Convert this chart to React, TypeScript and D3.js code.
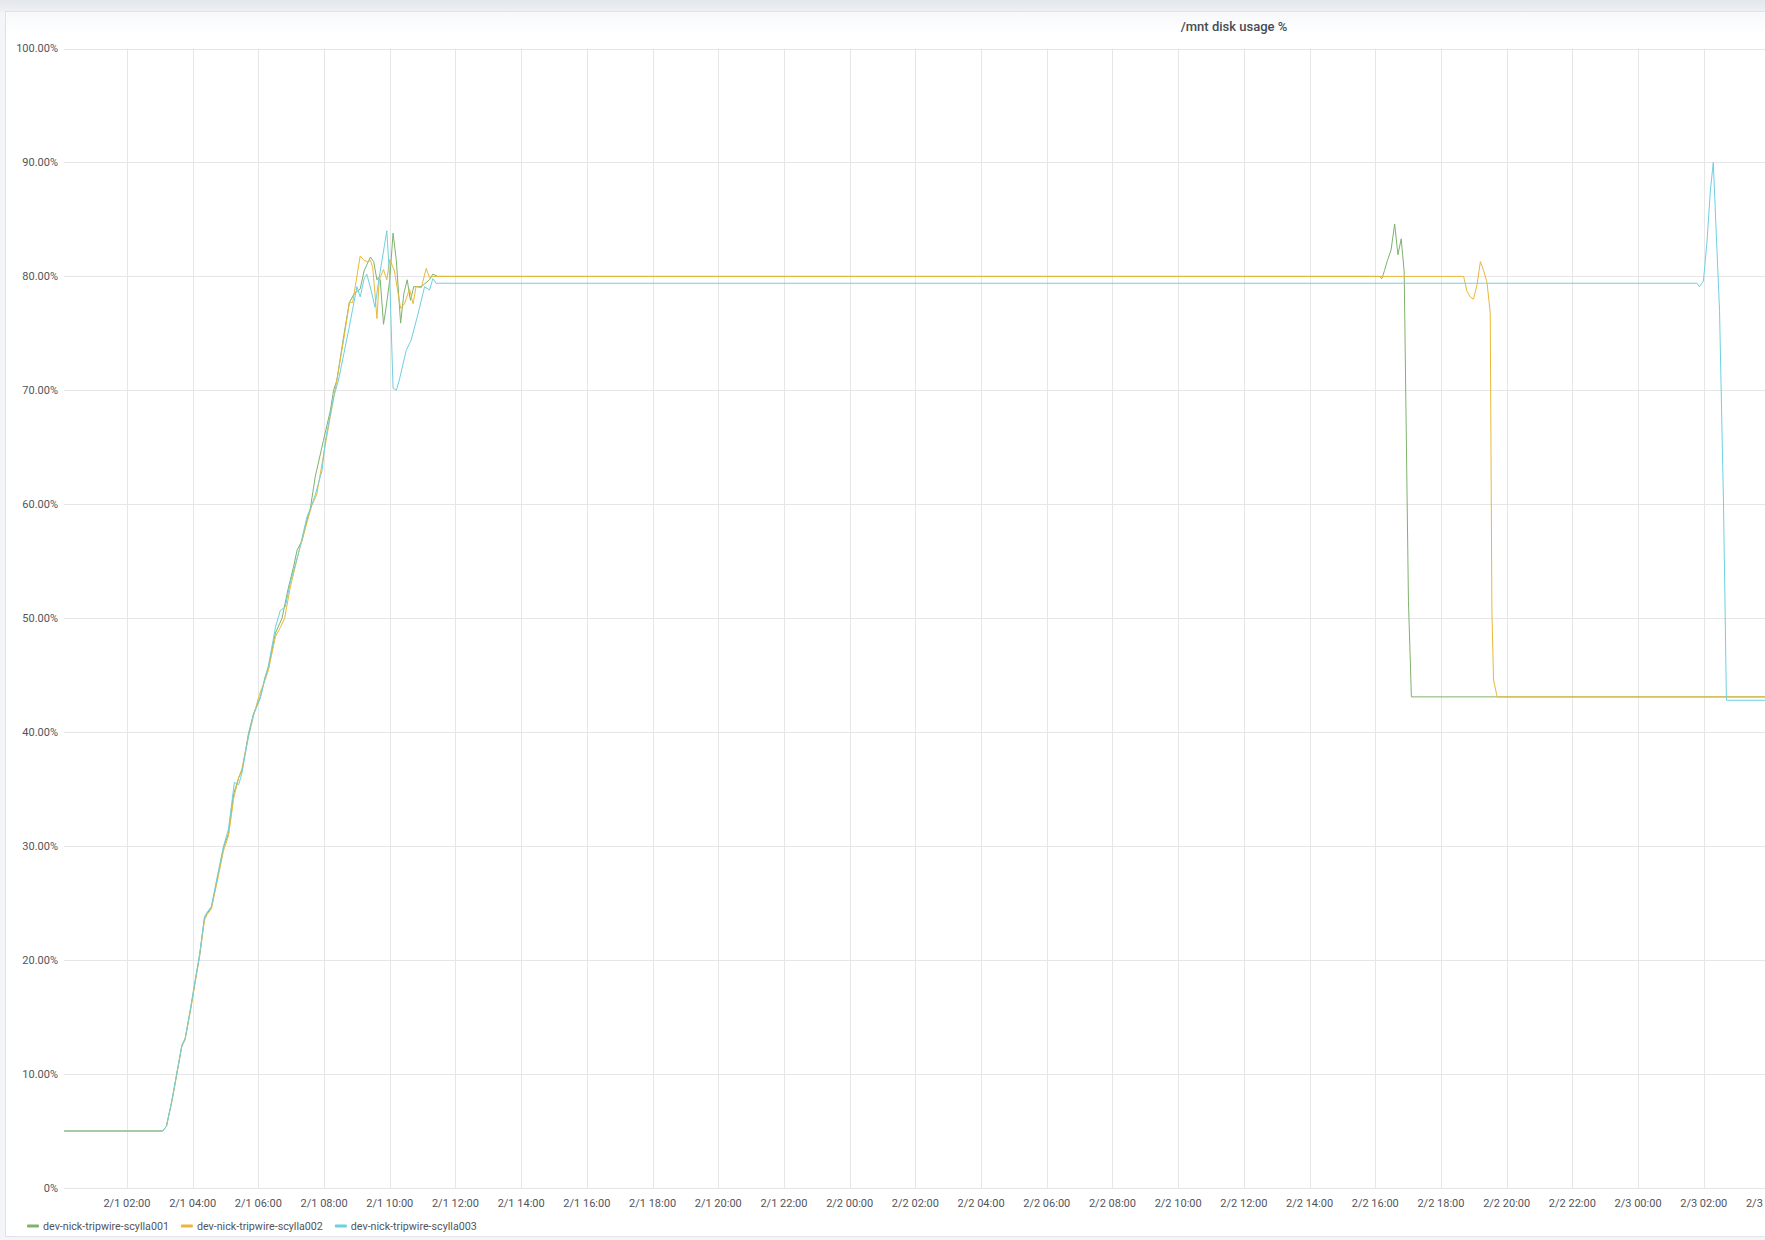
import React, { useEffect, useRef } from "react";
import * as d3 from "d3";

const seriesNames = [
  "dev-nick-tripwire-scylla001",
  "dev-nick-tripwire-scylla002",
  "dev-nick-tripwire-scylla003",
];
const seriesColors = ["#7eb26d", "#eab839", "#6ed0e0"];

// [hours since 2/1 00:00, /mnt usage %]
const scylla001: [number, number][] = [
  [0.09, 5.0], [3.08, 5.0], [3.2, 5.4], [3.37, 7.7], [3.52, 10.1], [3.67, 12.5],
  [3.77, 13.1], [3.93, 15.6], [4.08, 18.2], [4.21, 20.3], [4.36, 23.7], [4.44, 24.1],
  [4.57, 24.6], [4.74, 27.0], [4.94, 29.9], [5.09, 31.1], [5.25, 34.6], [5.4, 36.0],
  [5.5, 36.6], [5.7, 39.9], [5.85, 41.6], [6.06, 43.1], [6.21, 44.9], [6.31, 45.7],
  [6.52, 48.7], [6.72, 50.0], [6.9, 52.5], [7.07, 54.5], [7.18, 56.0], [7.33, 56.8],
  [7.48, 58.6], [7.58, 59.6], [7.73, 62.4], [7.98, 65.6], [8.19, 68.2], [8.29, 70.0],
  [8.39, 70.9], [8.6, 74.8], [8.77, 77.7], [8.92, 78.5], [9.1, 78.9], [9.22, 80.5],
  [9.41, 81.7], [9.51, 81.3], [9.61, 79.7], [9.65, 79.9], [9.71, 79.7], [9.81, 75.8],
  [9.89, 77.3], [10.0, 79.7], [10.1, 83.8], [10.2, 81.4], [10.33, 75.9], [10.43, 78.5],
  [10.53, 79.7], [10.63, 77.9], [10.73, 79.1], [10.96, 79.1], [11.21, 79.7], [11.31, 80.2],
  [11.46, 80.0], [40.13, 80.0], [40.2, 79.8], [40.28, 80.5], [40.37, 81.4], [40.48, 82.3],
  [40.59, 84.6], [40.69, 81.9], [40.79, 83.3], [40.88, 80.4], [41.01, 51.5], [41.1, 43.1],
  [53.0, 43.1],
];

const scylla002: [number, number][] = [
  [0.09, 5.0], [3.08, 5.0], [3.2, 5.4], [3.37, 7.6], [3.52, 10.0], [3.67, 12.4],
  [3.77, 13.0], [3.93, 15.5], [4.08, 18.1], [4.21, 20.4], [4.36, 23.5], [4.44, 24.0],
  [4.57, 24.5], [4.74, 26.8], [4.94, 29.6], [5.09, 30.9], [5.25, 34.2], [5.4, 36.0],
  [5.5, 36.8], [5.7, 39.6], [5.85, 41.4], [6.03, 43.3], [6.21, 44.6], [6.31, 45.5],
  [6.52, 48.4], [6.67, 49.2], [6.8, 50.0], [6.97, 52.7], [7.22, 55.7], [7.43, 57.9],
  [7.63, 59.9], [7.78, 60.9], [7.94, 63.6], [8.19, 67.7], [8.39, 70.9], [8.6, 74.5],
  [8.77, 77.7], [8.87, 77.7], [9.1, 81.8], [9.22, 81.4], [9.33, 81.3], [9.41, 81.4],
  [9.48, 80.8], [9.55, 78.5], [9.61, 76.3], [9.68, 79.7], [9.81, 80.6], [9.91, 79.7],
  [10.0, 81.5], [10.14, 80.5], [10.33, 77.2], [10.45, 77.6], [10.6, 78.9], [10.71, 77.6],
  [10.8, 79.1], [10.96, 79.0], [11.11, 80.7], [11.21, 79.9], [11.31, 80.0], [42.69, 80.0],
  [42.79, 78.7], [42.89, 78.2], [42.99, 78.0], [43.1, 79.3], [43.2, 81.3], [43.3, 80.5],
  [43.4, 79.5], [43.5, 76.8], [43.55, 50.8], [43.6, 44.6], [43.71, 43.1], [53.0, 43.1],
];

const scylla003: [number, number][] = [
  [0.09, 5.0], [3.08, 5.0], [3.2, 5.4], [3.37, 7.7], [3.52, 10.1], [3.67, 12.5],
  [3.77, 13.1], [3.93, 15.7], [4.08, 18.3], [4.21, 20.5], [4.36, 23.8], [4.44, 24.2],
  [4.57, 24.7], [4.74, 27.2], [4.94, 30.0], [5.09, 31.5], [5.27, 35.6], [5.4, 35.4],
  [5.5, 36.4], [5.7, 39.7], [5.85, 41.5], [6.06, 43.0], [6.21, 44.8], [6.31, 45.9],
  [6.52, 49.2], [6.67, 50.7], [6.82, 51.0], [6.97, 53.1], [7.22, 55.7], [7.48, 58.9],
  [7.58, 59.6], [7.73, 60.8], [7.94, 63.0], [8.04, 65.6], [8.29, 69.4], [8.44, 70.9],
  [8.77, 75.6], [9.0, 79.1], [9.1, 78.2], [9.22, 79.8], [9.3, 80.2], [9.43, 78.8],
  [9.55, 77.3], [9.65, 79.4], [9.78, 81.7], [9.91, 84.0], [10.0, 79.7], [10.1, 70.2],
  [10.2, 70.0], [10.29, 70.9], [10.5, 73.5], [10.65, 74.4], [10.86, 76.7], [11.06, 79.1],
  [11.21, 78.8], [11.31, 79.8], [11.41, 79.4], [49.79, 79.4], [49.87, 79.1], [49.99, 79.6],
  [50.1, 83.1], [50.2, 87.5], [50.29, 90.0], [50.48, 77.0], [50.6, 60.2], [50.69, 42.8],
  [53.0, 42.8],
];

const seriesData = [scylla001, scylla002, scylla003];
const yTicks = [0, 10, 20, 30, 40, 50, 60, 70, 80, 90, 100];
const title = "/mnt disk usage %";

const W = 1765;
const H = 1240;
const FONT = "Roboto, 'Noto Sans', Arial, sans-serif";

const base = new Date(2021, 1, 1, 0, 0, 0);
const toDate = (h: number) => new Date(base.getTime() + h * 3600 * 1000);

export default function App() {
  const svgRef = useRef<SVGSVGElement | null>(null);

  useEffect(() => {
    if (!svgRef.current) return;
    const svg = d3.select(svgRef.current);
    svg.selectAll("*").remove();

    const left = 64;
    const top = 48.5;
    const bottom = 1188;
    const pxPerHour = 32.85;
    const t0 = 0.0833; // 2/1 00:05
    const t1 = 53; // 2/3 05:00, past the visible edge

    const x = d3.scaleTime()
      .domain([toDate(t0), toDate(t1)])
      .range([left, left + (t1 - t0) * pxPerHour]);
    const y = d3.scaleLinear().domain([0, 100]).range([bottom, top]);

    // page + panel
    const defs = svg.append("defs");
    const topGrad = defs.append("linearGradient")
      .attr("id", "page-top").attr("x1", 0).attr("y1", 0).attr("x2", 0).attr("y2", 1);
    topGrad.append("stop").attr("offset", "0%").attr("stop-color", "#e3e7ec");
    topGrad.append("stop").attr("offset", "100%").attr("stop-color", "#eef0f4");
    const headGrad = defs.append("linearGradient")
      .attr("id", "panel-head").attr("x1", 0).attr("y1", 0).attr("x2", 0).attr("y2", 1);
    headGrad.append("stop").attr("offset", "0%").attr("stop-color", "#f7f8fa");
    headGrad.append("stop").attr("offset", "100%").attr("stop-color", "#ffffff");

    svg.append("rect").attr("width", W).attr("height", H).attr("fill", "#f4f5f8");
    svg.append("rect").attr("width", W).attr("height", 12).attr("fill", "url(#page-top)");
    svg.append("rect")
      .attr("x", 5.5).attr("y", 11.5).attr("width", W + 20).attr("height", 1225)
      .attr("fill", "#ffffff").attr("stroke", "#dde1e8");
    svg.append("rect")
      .attr("x", 6).attr("y", 12).attr("width", W).attr("height", 22)
      .attr("fill", "url(#panel-head)");

    // title
    svg.append("text")
      .attr("x", 1234).attr("y", 31)
      .attr("text-anchor", "middle")
      .attr("font-family", FONT).attr("font-size", 13).attr("font-weight", 500)
      .attr("fill", "#464c54")
      .text(title);

    // grid
    const xTicks = x.ticks(d3.timeHour.every(2)!);
    const grid = svg.append("g").attr("stroke", "#e6e6e6").attr("stroke-width", 1);
    grid.selectAll("line.h").data(yTicks).join("line")
      .attr("x1", left).attr("x2", W)
      .attr("y1", (d) => Math.round(y(d)) + 0.5).attr("y2", (d) => Math.round(y(d)) + 0.5);
    grid.selectAll("line.v").data(xTicks).join("line")
      .attr("x1", (d) => Math.round(x(d)) + 0.5).attr("x2", (d) => Math.round(x(d)) + 0.5)
      .attr("y1", top).attr("y2", bottom);

    // axis labels
    svg.append("g").selectAll("text").data(yTicks).join("text")
      .attr("x", 58).attr("y", (d) => y(d)).attr("dy", "0.35em")
      .attr("text-anchor", "end")
      .attr("font-family", FONT).attr("font-size", 11).attr("fill", "#52545c")
      .text((d) => (d === 0 ? "0%" : d.toFixed(2) + "%"));

    const fmt = d3.timeFormat("%-m/%-d %H:%M");
    svg.append("g").selectAll("text").data(xTicks).join("text")
      .attr("x", (d) => x(d)).attr("y", 1207)
      .attr("text-anchor", "middle")
      .attr("font-family", FONT).attr("font-size", 11).attr("fill", "#52545c")
      .text((d) => fmt(d));

    // series
    const line = d3.line<[number, number]>()
      .x((d) => x(toDate(d[0])))
      .y((d) => y(d[1]));
    seriesData.forEach((s, i) => {
      svg.append("path")
        .datum(s)
        .attr("fill", "none")
        .attr("stroke", seriesColors[i])
        .attr("stroke-width", 1)
        .attr("stroke-linejoin", "round")
        .attr("d", line);
    });

    // legend
    let lx = 27;
    const legend = svg.append("g");
    seriesNames.forEach((name, i) => {
      legend.append("rect")
        .attr("x", lx).attr("y", 1224.5).attr("width", 12).attr("height", 3)
        .attr("rx", 1).attr("fill", seriesColors[i]);
      const t = legend.append("text")
        .attr("x", lx + 16).attr("y", 1230)
        .attr("font-family", FONT).attr("font-size", 10.7).attr("fill", "#52545c")
        .text(name);
      const w = (t.node() as SVGTextElement).getComputedTextLength();
      lx += 16 + w + 12;
    });
    svg.append("line")
      .attr("x1", 16).attr("x2", W).attr("y1", 1236.5).attr("y2", 1236.5)
      .attr("stroke", "#e4e7ec");
  }, []);

  return (
    <svg
      ref={svgRef}
      width={W}
      height={H}
      style={{ position: "absolute", left: 0, top: 0, display: "block" }}
    />
  );
}
